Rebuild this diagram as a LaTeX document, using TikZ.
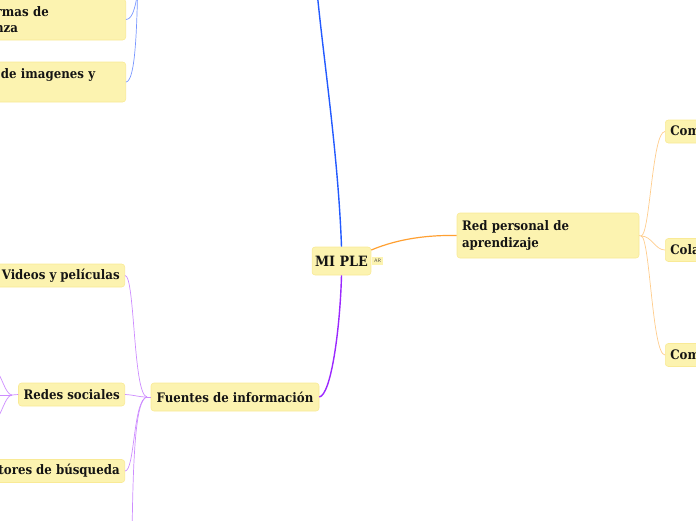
\documentclass[tikz,border=0pt]{standalone}
\usepackage{fontspec}
\setmainfont{DejaVu Serif Condensed}[BoldFont={DejaVu Serif Condensed Bold}]
\definecolor{nodefill}{RGB}{252,243,176}
\definecolor{nodeline}{RGB}{249,234,150}
\definecolor{txt}{RGB}{20,20,20}
\definecolor{bluemain}{RGB}{35,90,255}
\definecolor{bluelight}{RGB}{120,150,255}
\definecolor{purplemain}{RGB}{155,40,255}
\definecolor{purplelight}{RGB}{205,140,255}
\definecolor{orangemain}{RGB}{255,160,50}
\definecolor{orangelight}{RGB}{255,205,140}
\tikzset{
  box/.style={draw=nodeline, fill=nodefill, rounded corners=3pt, line width=0.6pt,
    inner xsep=5pt, inner ysep=0pt, text=txt, font=\fontsize{13.1}{16.5}\selectfont\bfseries},
  onebox/.style={box, minimum height=23pt},
  twobox/.style={box, text width=172pt, align=left},
  badge/.style={fill=nodefill, inner sep=0pt, minimum width=11pt, minimum height=8pt,
    text=black!70, font=\fontsize{5}{5}\selectfont\sffamily},
  mainblue/.style={draw=bluemain, line width=1.4pt},
  subblue/.style={draw=bluelight, line width=0.7pt},
  mainpurple/.style={draw=purplemain, line width=1.4pt},
  subpurple/.style={draw=purplelight, line width=0.7pt},
  mainorange/.style={draw=orangemain, line width=1.2pt},
  suborange/.style={draw=orangelight, line width=0.7pt}
}
\begin{document}
\begin{tikzpicture}[x=1pt,y=-1pt]
\useasboundingbox (0,0) rectangle (696,520);
\clip (0,0) rectangle (696,520);
% nodes
\node[box, minimum width=57pt, minimum height=28pt, inner xsep=3pt, font=\fontsize{14.2}{17}\selectfont\bfseries] (mi) at (341.5,261) {MI PLE};
\node[badge] (ar) at (377.5,261) {AR};
\node[twobox, minimum height=45pt] (red) at (548,235.5) {Red personal de\\aprendizaje};
\node[onebox, anchor=west] (c1) at (665,131.5) {Compartir};
\node[onebox, anchor=west] (c2) at (665,250) {Colaborar};
\node[onebox, anchor=west] (c3) at (665,355) {Comunicar};
\node[box, minimum width=168pt, minimum height=28pt] (fu) at (235,397) {Fuentes de información};
\node[onebox, anchor=east] (vi) at (125,275.5) {Videos y películas};
\node[onebox, anchor=east] (rs) at (125,394.5) {Redes sociales};
\node[onebox, anchor=east] (mo) at (125,471) {Motores de búsqueda};
\node[twobox, minimum height=41pt, anchor=east] (pl) at (126,19.5) {Plataformas de\\enseñanza};
\node[twobox, minimum height=40pt, anchor=east] (ba) at (126,82) {Bancos de imagenes y\\videos};
% free ends
\coordinate (bluetop) at (316,-20);
\coordinate (tlp) at (141,-30);
\coordinate (tlb) at (138,-30);
\coordinate (fj) at (147,397);
\coordinate (fb) at (132,540);
\coordinate (rj) at (12,395);
\coordinate (ra) at (-8,362);
\coordinate (rb) at (-8,395);
\coordinate (rc) at (-8,428);
\coordinate (oj) at (641,236);
% blue
\draw[mainblue] (mi.north) .. controls (338,150) and (322,50) .. (bluetop);
\draw[subblue] (pl.east) .. controls (133,19) and (136,8) .. (tlp);
\draw[subblue] (ba.east) .. controls (135,81) and (137,35) .. (tlb);
% purple
\draw[mainpurple] (mi.south) .. controls (340,330) and (331,395) .. (fu.east);
\draw[subpurple] (fu.west) -- (fj);
\draw[subpurple] (vi.east) .. controls (135,275) and (133,395) .. (fj);
\draw[subpurple] (rs.east) .. controls (135,395) and (138,397) .. (fj);
\draw[subpurple] (mo.east) .. controls (135,471) and (133,399) .. (fj);
\draw[subpurple] (fj) .. controls (136,399) and (133,450) .. (fb);
\draw[subpurple] (rs.west) -- (rj);
\draw[subpurple] (rj) .. controls (5,394) and (3,378) .. (ra);
\draw[subpurple] (rj) -- (rb);
\draw[subpurple] (rj) .. controls (5,396) and (3,412) .. (rc);
% orange
\draw[mainorange] (mi.east |- 0,250) .. controls (400,238) and (430,235) .. (red.west);
\draw[suborange] (red.east) -- (oj);
\draw[suborange] (oj) .. controls (650,236) and (652,131.5) .. (c1.west);
\draw[suborange] (oj) .. controls (652,236) and (655,250) .. (c2.west);
\draw[suborange] (oj) .. controls (650,236) and (652,355) .. (c3.west);
\end{tikzpicture}
\end{document}
